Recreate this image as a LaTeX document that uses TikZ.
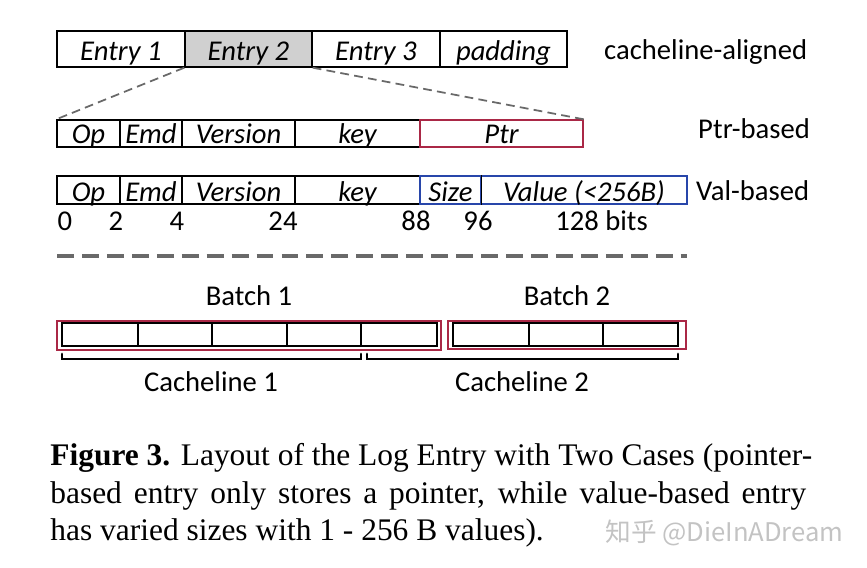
\documentclass[tikz,border=0pt]{standalone}
\usepackage{fontspec}
\setmainfont{Liberation Serif}
\setsansfont{Carlito}
\newfontfamily\cjkfont{Noto Sans CJK SC}
\usetikzlibrary{fit, positioning}
\definecolor{mygray}{RGB}{208, 208, 208}
\definecolor{mydarkgray}{RGB}{105, 105, 105}
\definecolor{mydarkred}{RGB}{170, 40, 70}
\definecolor{mydarkblue}{RGB}{40, 70, 170}
\definecolor{mylightgray}{RGB}{195, 195, 195}

\begin{document}
\begin{tikzpicture}[x=0.02cm, y=-0.02cm, font=\sffamily\fontsize{16.3}{19}\selectfont,
  cell/.style={draw, line width=0.8pt, inner sep=0pt},
  field/.style={anchor=base, inner sep=0pt, font=\sffamily\itshape\fontsize{16.3}{19}\selectfont},
  batchbox/.style={draw=mydarkred, line width=0.8pt, inner sep=0pt},
  conn/.style={mydarkgray, line width=1pt, dash pattern=on 5pt off 3pt},
  bracket/.style={line width=1.7pt, line cap=round}]
  \useasboundingbox (0,0) rectangle (867,568);
  % Cacheline-aligned entries
  \node[cell, fit={(57,31) (185,67)}] (entry1) {};
  \node[cell, fill=mygray, fit={(185,31) (312,67)}] (entry2) {};
  \node[cell, fit={(312,31) (440,67)}] (entry3) {};
  \node[cell, fit={(440,31) (567,67)}] (padding) {};
  \foreach \n/\t in {entry1/Entry 1, entry2/Entry 2, entry3/Entry 3, padding/padding} {
    \node[field] (\n-text) at (\n.center |- 0,60) {\t};
  }
  \node[anchor=base west] (aligned) at (598,59) {cacheline-aligned};
  % Pointer-based and value-based entries
  \foreach \a/\b/\n/\t in {57/120/op/Op, 120/182/emd/Emd, 182/295/ver/Version, 295/420/key/key} {
    \node[cell, fit={(\a,120) (\b,147)}] (\n-P) {};
    \node[field] (\n-Ptext) at (\n-P.center |- 0,143) {\t};
    \node[cell, fit={(\a,176) (\b,204)}] (\n-V) {};
    \node[field] (\n-Vtext) at (\n-V.center |- 0,201) {\t};
  }
  \node[cell, draw=mydarkred, fit={(420,120) (583,147)}] (ptr) {};
  \node[field] (ptr-text) at (ptr.center |- 0,143) {Ptr};
  \node[anchor=base west] (ptrbased) at (692,138) {Ptr-based};
  \node[cell, draw=mydarkblue, fit={(420,176) (481,204)}] (size) {};
  \node[cell, draw=mydarkblue, fit={(481,176) (687,204)}] (value) {};
  \draw[line width=0.8pt] (size.north east) -- (size.south east);
  \node[field] (size-text) at (size.center |- 0,201) {Size};
  \node[field] (value-text) at (value.center |- 0,201) {Value (<256B)};
  \node[anchor=base west] (valbased) at (690,200) {Val-based};
  % Zoom lines
  \draw[conn] (entry2.south west) -- (op-P.north west);
  \draw[conn] (entry2.south east) -- (ptr.north east);
  % Bit offsets
  \foreach \x/\b in {65/0, 116/2, 177/4, 283/24, 416/88, 478/96} {
    \node[anchor=base, inner sep=0pt] (bit\b) at (\x,230) {\b};
  }
  \node[anchor=base west, inner sep=0pt] (bit128) at (555,230) {128 bits};
  % Separator
  \draw[mydarkgray, line width=1.8pt, dash pattern=on 9.6pt off 4.6pt] (57,256) -- (687,256);
  % Batches
  \node[batchbox, fit={(57,321) (441,350)}] (batch1) {};
  \node[batchbox, fit={(448,321) (686,349)}] (batch2) {};
  \foreach \a/\b [count=\i] in {62/138, 138/212, 212/287, 287/361, 361/437, 453/529, 529/603, 603/678} {
    \node[cell, fit={(\a,323) (\b,346)}] (slot\i) {};
  }
  \node[anchor=base, inner sep=0pt] (batchlabel1) at (batch1.center |- 0,305) {Batch 1};
  \node[anchor=base, inner sep=0pt] (batchlabel2) at (batch2.center |- 0,305) {Batch 2};
  % Cachelines
  \draw[bracket] (62,354) -- (62,359) -- (361,359) -- (361,354);
  \draw[bracket] (367,354) -- (367,359) -- (678,359) -- (678,354);
  \node[anchor=base, inner sep=0pt] (cline1) at (211,391) {Cacheline 1};
  \node[anchor=base, inner sep=0pt] (cline2) at (522,391) {Cacheline 2};
  % Caption
  \begin{scope}[font=\rmfamily\fontsize{17.9}{21}\selectfont]
    \node[anchor=base west, inner sep=0pt] (cap1) at (50,465) {\hbox to 15.24cm{\textbf{Figure 3.} Layout of the Log Entry with Two Cases (pointer-}};
    \node[anchor=base west, inner sep=0pt] (cap2) at (50,503) {\hbox to 15.12cm{based entry only stores a pointer, while value-based entry}};
    \node[anchor=base west, inner sep=0pt] (cap3) at (50,540) {has varied sizes with 1 - 256 B values).};
  \end{scope}
  \node[anchor=base west, inner sep=0pt, text=mylightgray, font=\cjkfont\fontsize{14.6}{18}\selectfont] (mark) at (605,541) {知乎 @DieInADream};
\end{tikzpicture}
\end{document}
